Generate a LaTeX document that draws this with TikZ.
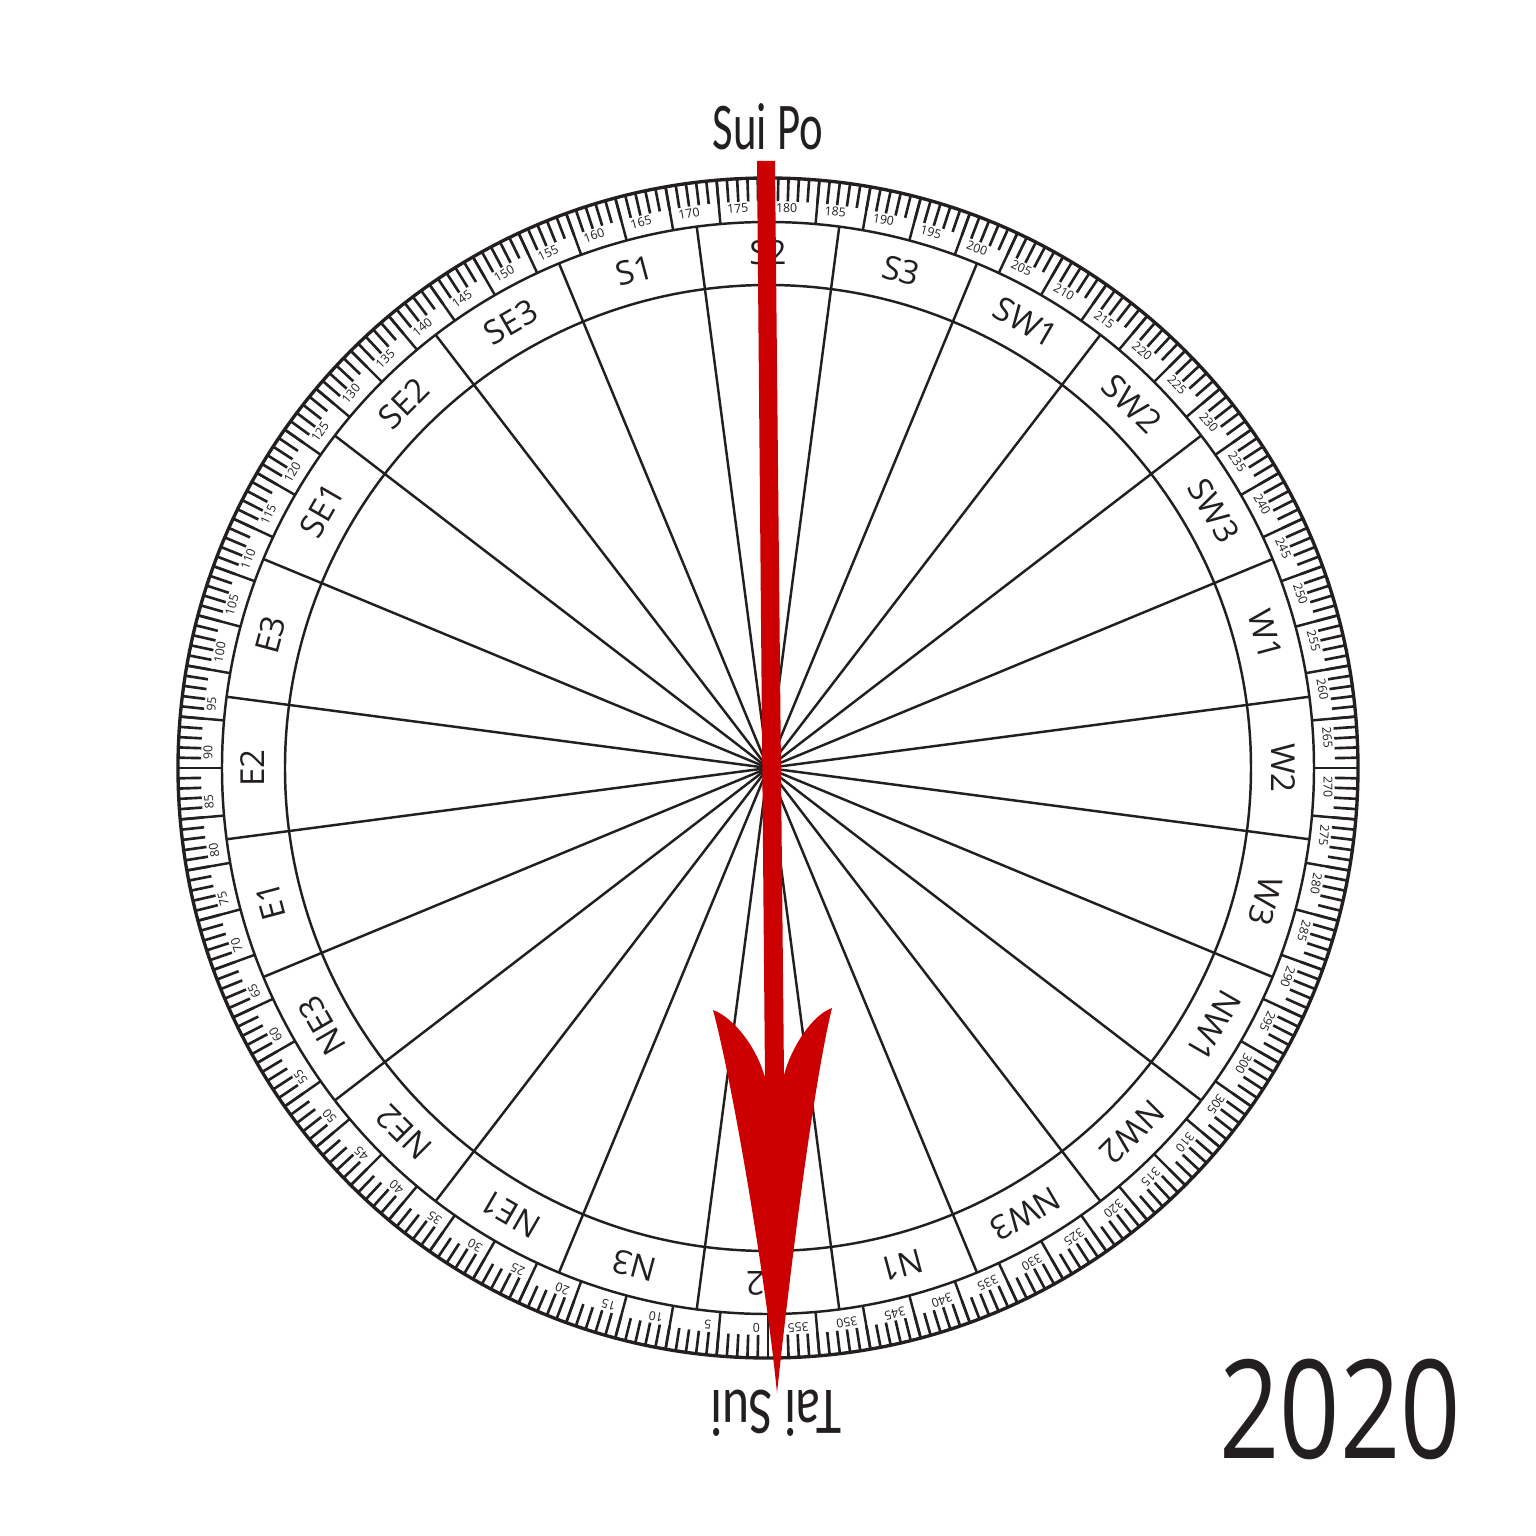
\documentclass[tikz,border=0pt]{standalone}
\usepackage{fontspec}
\setsansfont{Open Sans}
\newfontfamily\handfont{Carlito}
\definecolor{ink}{RGB}{35,31,32}
\definecolor{arrowred}{RGB}{204,0,0}

\begin{document}
\begin{tikzpicture}[
		x=0.01cm, y=0.01cm,
		every node/.style={
			inner sep=0pt,
			text=ink
		},
		ring/.style={
			draw=ink,
			line width=0.7pt
		},
		seclabel/.style={
			font=\fontsize{9.4pt}{11pt}\sffamily
		},
		deglabel/.style={
			font=\fontsize{3.5pt}{4pt}\sffamily,
			anchor=west
		},
		handlabel/.style={
			font=\handfont\fontsize{19pt}{22pt}\selectfont,
			xscale=0.67
		}]

		\useasboundingbox (-768,-768) rectangle (768,768);

		% circles
		\draw[ring, line width=0.95pt] (0,0) circle (590);
		\draw[ring] (0,0) circle (546);
		\draw[ring] (0,0) circle (483);

		% sector lines
		\foreach \k in {0,...,23}
			\draw[ring] (0,0) -- ({7.5+15*\k}:546);

		% degree scale
		\foreach \d [evaluate=\d as \a using 270-\d] in {0,...,359}
			\draw[ring, line width=0.75pt] (\a:567) -- (\a:590);
		\foreach \d [evaluate=\d as \a using 270-\d] in {0,5,...,355} {
			\draw[ring] (\a:546) -- (\a:590);
			\node[deglabel, rotate=\a-90] (deg-\d) at (\a-0.75:560) {\d};
		}

		% sector labels
		\foreach \lab [count=\i from 0, evaluate=\i as \a using 270-15*\i] in
			{N2,N3,NE1,NE2,NE3,E1,E2,E3,SE1,SE2,SE3,S1,S2,S3,SW1,SW2,SW3,W1,W2,W3,NW1,NW2,NW3,N1}
			\node[seclabel, rotate=\a-90] (sec-\lab) at (\a:515) {\lab};

		% arrow
		\fill[arrowred] (-11,607) -- (-3,-310)
			.. controls (-10,-282) and (-33,-250) .. (-55,-242)
			.. controls (-36,-312) and (-2,-512) .. (9,-625)
			.. controls (20,-522) and (44,-322) .. (64,-240)
			.. controls (44,-247) and (23,-280) .. (16,-307)
			-- (7,607) -- cycle;

		%labels
		\node[handlabel] (suipo) at (0,641) {Sui Po};
		\node[handlabel, xscale=1.15, rotate=180] (taisui) at (8,-645) {Tai Sui};
		\node[font=\fontsize{39pt}{44pt}\sffamily, xscale=0.77] (year) at (572,-641) {2020};

	\end{tikzpicture}
\end{document}
